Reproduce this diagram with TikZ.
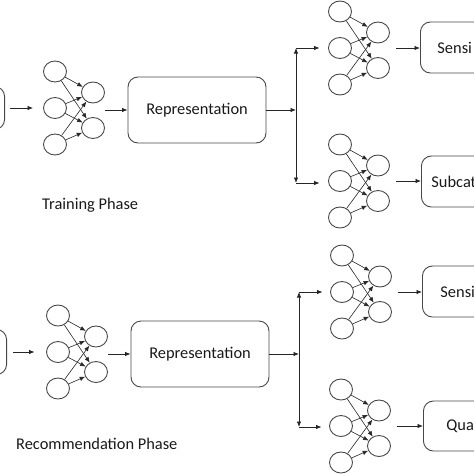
\documentclass[tikz,border=0pt]{standalone}
\usepackage{fontspec}
\setmainfont{Carlito}
\usetikzlibrary{shapes.geometric,arrows.meta}
\definecolor{linegray}{gray}{0.28}
\tikzset{
  neuron/.style={ellipse,draw=linegray,line width=0.9pt,minimum width=23pt,minimum height=21pt,inner sep=0pt},
  rbox/.style={rectangle,draw=linegray,line width=0.9pt,rounded corners=10pt,inner sep=0pt},
  conn/.style={-{Latex[length=5.5pt,width=4.5pt]},line width=0.8pt,draw=black!85},
  lbl/.style={font=\fontsize{16.4}{19}\selectfont,text=black!90}
}
\newcommand\netw[3]{%
  \node[neuron] (#1i1) at (#2,#3-36.5) {};
  \node[neuron] (#1i2) at (#2,#3) {};
  \node[neuron] (#1i3) at (#2,#3+36.5) {};
  \node[neuron] (#1o1) at (#2+38,#3-15.5) {};
  \node[neuron] (#1o2) at (#2+38,#3+20) {};
  \foreach \a in {1,2,3}{\foreach \b in {1,2}{\draw[conn,line width=0.6pt] (#1i\a) -- (#1o\b);}}
}
\begin{document}
\begin{tikzpicture}[x=1pt,y=-1pt]
\useasboundingbox (0,0) rectangle (474,474);
\clip (0,0) rectangle (474,474);
% ---------- Training phase ----------
\node[rbox,minimum width=40pt,minimum height=43pt,anchor=east] (L1) at (5,108) {};
\netw{n1}{55}{108}
\node[rbox,lbl,minimum width=138pt,minimum height=66pt] (r1) at (197,110) {Representation};
\netw{n2}{340}{48}
\netw{n3}{340}{181}
\node[rbox,lbl,anchor=west,minimum height=51pt,text width=80pt,align=left,inner xsep=17pt] (S1) at (420,47.5) {Sensi};
\node[rbox,lbl,anchor=west,minimum height=51pt,text width=80pt,align=left,inner xsep=10pt] (B1) at (421,181.5) {Subcat};
\node[lbl,anchor=west,inner sep=0pt] (tp) at (42,205) {Training Phase};
\coordinate (j1) at (296,110);
\coordinate (c1) at (296,48);
\coordinate (c2) at (296,183);
\draw[conn,shorten <=5pt,shorten >=10pt] (L1.east) -- (n1i2.west);
\draw[conn] (n1o1.east |- r1.west) -- (r1.west);
\draw[conn] (r1.east) -- (j1);
\draw[conn] (j1) -- (c1);
\draw[conn] (j1) -- (c2);
\draw[conn,shorten >=8.5pt] (c1) -- (n2i2.west);
\draw[conn,shorten >=8.5pt] (c2) -- (c2 -| n3i2.west);
\draw[conn,shorten <=6pt] (n2o1.east |- n2i2) -- (S1.west |- n2i2);
\draw[conn,shorten <=6pt] (n3o1.east |- n3i2) -- (B1.west |- n3i2);
% ---------- Recommendation phase ----------
\node[rbox,minimum width=40pt,minimum height=45pt,anchor=east] (L2) at (7,352) {};
\netw{n4}{58}{352}
\node[rbox,lbl,minimum width=138pt,minimum height=66pt] (r2) at (200,354) {Representation};
\netw{n5}{342}{292}
\netw{n6}{341}{426}
\node[rbox,lbl,anchor=west,minimum height=51pt,text width=80pt,align=left,inner xsep=18pt] (S2) at (422,291.5) {Sensi};
\node[rbox,lbl,anchor=west,minimum height=50pt,text width=80pt,align=left,inner xsep=23pt] (Q2) at (423,426) {Qua};
\node[lbl,anchor=west,inner sep=0pt] (rp) at (16,444) {Recommendation Phase};
\coordinate (j2) at (299,354);
\coordinate (c3) at (299,292);
\coordinate (c4) at (299,427);
\draw[conn,shorten <=6pt,shorten >=11.5pt] (L2.east) -- (n4i2.west);
\draw[conn] (n4o1.east |- r2.west) -- (r2.west);
\draw[conn] (r2.east) -- (j2);
\draw[conn] (j2) -- (c3);
\draw[conn] (j2) -- (c4);
\draw[conn,shorten >=7.5pt] (c3) -- (n5i2.west);
\draw[conn,shorten >=7.5pt] (c4) -- (c4 -| n6i2.west);
\draw[conn,shorten <=6pt] (n5o1.east |- n5i2) -- (S2.west |- n5i2);
\draw[conn,shorten <=6pt] (n6o1.east |- n6i2) -- (Q2.west |- n6i2);
\end{tikzpicture}
\end{document}
